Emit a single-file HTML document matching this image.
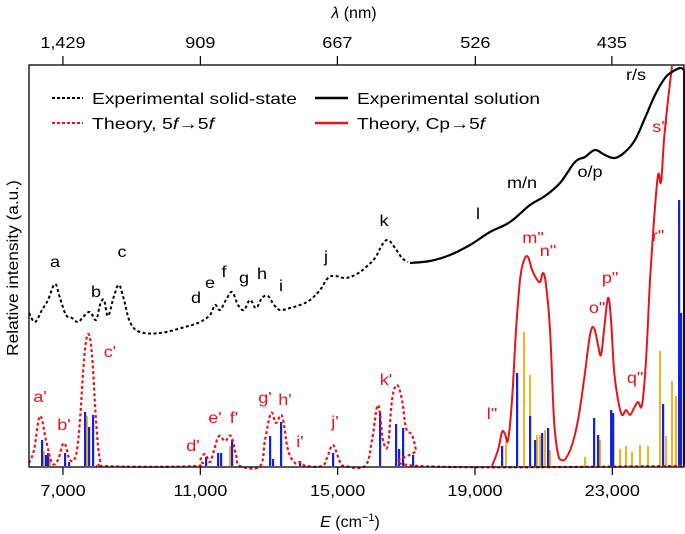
<!DOCTYPE html>
<html><head><meta charset="utf-8"><style>
body{margin:0;background:#fff;}
svg{display:block;font-family:"Liberation Sans",Arial,sans-serif;}
</style></head><body>
<svg id="chart" width="685" height="534" viewBox="0 0 685 534">
<g id="layer"></g>
</svg>
<script>
// ----- data -----
const solidE=[6010,6184,6388,6563,6767,6913,7087,7262,7437,7612,7787,7961,8078,8194,8311,8486,8631,8777,8952,9243,9826,10554,10991,11282,11428,11573,11748,11923,12098,12273,12447,12622,12797,12972,13147,13321,13613,13904,14195,14486,14719,14923,15215,15506,15797,16088,16292,16467,16671,16875,17050];
const solidI=[153,144,156,166,182,168,151,148,144,150,154,146,161,166,150,170,181,166,144,134,133,139,144,151,161,156,166,174,161,156,166,158,168,170,161,156,158,161,166,176,188,190,188,191,198,208,221,226,218,208,204];
const solnE=[17108,17691,18273,18856,19439,20021,20604,21041,21478,21915,22206,22497,22788,23080,23371,23662,23953,24244,24536,24740,24973,25090];
const solnI=[203,205,211,221,234,244,261,270,283,304,309,316,311,308,314,326,348,371,388,394,398,396];
const th5fE=[6010,6155,6330,6505,6680,6854,7029,7204,7379,7495,7612,7728,7845,7961,8078,8253,10845,10991,11136,11282,11399,11544,11719,11894,12039,12156,12739,12884,13059,13205,13380,13554,13758,13904,14079,14545,14691,14865,15069,15215,15797,16001,16176,16321,16467,16584,16729,16875,16992,17166,17283,17399,25100];
const th5fI=[3,16,50,26,3,6,23,6,11,46,106,132,111,46,6,0,0,6,12,4,16,30,25,30,11,0,0,26,53,43,50,16,3,4,0,0,8,21,4,0,0,26,61,26,21,66,81,66,38,31,16,0,0];
const cpE=[19497,19672,19788,19876,19963,20080,20196,20313,20430,20546,20663,20779,20896,20983,21070,21187,21303,21420,21536,21653,21828,22002,22177,22352,22468,22585,22672,22760,22876,22964,23051,23167,23284,23400,23517,23634,23750,23866,23983,24100,24216,24333,24420,24507,24624,24740];
const cpI=[0,16,34,32,26,66,136,186,206,209,196,188,184,193,181,136,46,12,6,8,21,46,86,131,138,121,111,136,168,146,96,66,51,56,51,58,64,61,106,186,246,291,284,326,366,400];
const blueE=[6388,6505,6563,7058,7175,7641,7757,7874,11166,11515,11603,11923,13030,13117,13350,13904,14865,16234,16700,16787,16904,17195,19788,20225,20604,20750,20954,21128,22468,22585,22964,23022,24478,24944,25002,25090];
const blueI=[26,11,13,13,4,54,39,51,9,13,13,26,30,7,44,3,13,54,42,17,38,11,20,93,50,26,33,38,48,31,56,53,62,266,153,396];
const orangeE=[6447,6621,7699,11515,11865,19905,20430,20604,20808,20896,21041,21187,22206,22643,23225,23400,23575,23808,24041,24391,24566,24740,24857];
const orangeI=[15,8,50,8,20,25,134,91,31,31,36,16,9,26,17,20,14,21,20,115,30,85,70];
const bottomTicks=[7000,11000,15000,19000,23000];
const bottomLabels=["7,000","11,000","15,000","19,000","23,000"];
const topTicks=[1429,909,667,526,435];
const topLabels=["1,429","909","667","526","435"];
const peakNames=["a","b","c","d","e","f","g","h","i","j","k","l","m/n","o/p","r/s"];
const peakE=[6767,7961,8718,10875,11282,11690,12273,12797,13350,14661,16351,19090,20371,22352,23692];
const peakI=[199,169,209,163,178,189,183,187,175,204,240,247,278,289,386];
const thNames=["a'","b'","c'","d'","e'","f'","g'","h'","i'","j'","k'","l\"","m\"","n\"","o\"","p\"","q\"","r\"","s\""];
const thE=[6330,7029,8369,10787,11428,11981,12884,13467,13904,14923,16409,19497,20692,21128,22556,22935,23663,24333,24391];
const thI=[64,36,109,15,43,43,63,61,19,39,81,47,223,210,153,183,83,225,334];

// ----- axes -----
const X0=29,X1=684,Y0=466,TOP=65;
const xE=e=>63+(e-7000)*0.03433;
const yI=v=>Y0-v;
const NS="http://www.w3.org/2000/svg";
const L=document.getElementById('layer');
function mk(tag,attrs,parent){const el=document.createElementNS(NS,tag);for(const k in attrs)el.setAttribute(k,attrs[k]);(parent||L).appendChild(el);return el;}
function pathOf(E,I){
  const P=E.map((e,i)=>[xE(e),yI(I[i])]);
  let d='M'+P[0][0].toFixed(1)+','+P[0][1].toFixed(1);
  for(let i=0;i<P.length-1;i++){
    const p0=P[Math.max(0,i-1)],p1=P[i],p2=P[i+1],p3=P[Math.min(P.length-1,i+2)];
    const t=0.18;
    const c1=[p1[0]+(p2[0]-p0[0])*t,p1[1]+(p2[1]-p0[1])*t];
    const c2=[p2[0]-(p3[0]-p1[0])*t,p2[1]-(p3[1]-p1[1])*t];
    d+=' C'+c1[0].toFixed(1)+','+c1[1].toFixed(1)+' '+c2[0].toFixed(1)+','+c2[1].toFixed(1)+' '+p2[0].toFixed(1)+','+p2[1].toFixed(1);
  }
  return d;
}
function txt(x,y,s,anchor,fill){
  const g=mk('g',{transform:'translate('+x+','+y+') scale(1.13,1)'});
  const t=mk('text',{x:0,y:0,'text-anchor':anchor,'font-size':16,fill:fill||'#000'},g);
  t.textContent=s;return t;
}

// bars
orangeE.forEach((e,i)=>{const r=mk('rect',{x:xE(e)-1,y:yI(orangeI[i]),width:2,height:orangeI[i],fill:'#f5b21f'});

});
blueE.forEach((e,i)=>{const r=mk('rect',{x:xE(e)-1,y:yI(blueI[i]),width:2.2,height:blueI[i],fill:'#1020e0'});

});

let p;
p=mk('path',{d:pathOf(th5fE,th5fI),fill:'none',stroke:'#e8141c','stroke-width':2.2,'stroke-dasharray':'3,2.5'});


p=mk('path',{d:pathOf(cpE,cpI),fill:'none',stroke:'#e8141c','stroke-width':2});


p=mk('path',{d:pathOf(solidE,solidI),fill:'none',stroke:'#000','stroke-width':2,'stroke-dasharray':'3,2.5'});


p=mk('path',{d:pathOf(solnE,solnI),fill:'none',stroke:'#000','stroke-width':2.2});



// frame
p=mk('rect',{x:X0,y:TOP,width:X1-X0,height:Y0+1-TOP,fill:'none',stroke:'#000','stroke-width':1.3});



bottomTicks.forEach((t,i)=>{mk('line',{x1:xE(t),x2:xE(t),y1:467,y2:475,stroke:'#000','stroke-width':1.2});
const tx=txt(xE(t),496,bottomLabels[i],'middle');

});
topTicks.forEach((t,i)=>{const e=1e7/t;mk('line',{x1:xE(e),x2:xE(e),y1:56,y2:65,stroke:'#000','stroke-width':1.2});
const tx=txt(xE(e),48,topLabels[i],'middle');

});

peakNames.forEach((n,i)=>{const tx=txt(xE(peakE[i]),yI(peakI[i]),n,'middle');

});
thNames.forEach((n,i)=>{const tx=txt(xE(thE[i]),yI(thI[i]),n,'middle','#e8141c');

});
</script>
<svg style="position:absolute;left:0;top:0" width="685" height="534">
<g font-family="Liberation Sans, Arial, sans-serif" font-size="16">
<text x="354" y="18" text-anchor="middle"><tspan font-style="italic">λ</tspan> (nm)</text>
<text x="350" y="527" text-anchor="middle"><tspan font-style="italic">E</tspan> (cm<tspan font-size="11" dy="-6">−1</tspan><tspan dy="6">)</tspan></text>
<text transform="translate(18,268) rotate(-90) scale(1.08,1)" text-anchor="middle">Relative intensity (a.u.)</text>
<g>
<line x1="52" y1="98" x2="83" y2="98" stroke="#000" stroke-width="2" stroke-dasharray="3,2"/>
<text x="92" y="104" textLength="205" lengthAdjust="spacingAndGlyphs">Experimental solid-state</text>
<line x1="315" y1="98" x2="348" y2="98" stroke="#000" stroke-width="2.4"/>
<text x="357" y="104" textLength="183" lengthAdjust="spacingAndGlyphs">Experimental solution</text>
<line x1="52" y1="123" x2="83" y2="123" stroke="#e8141c" stroke-width="2" stroke-dasharray="3,2"/>
<text x="92" y="129" textLength="122" lengthAdjust="spacingAndGlyphs">Theory, 5<tspan font-style="italic">f</tspan>→5<tspan font-style="italic">f</tspan></text>
<line x1="315" y1="123" x2="348" y2="123" stroke="#e8141c" stroke-width="2.4"/>
<text x="357" y="129" textLength="128" lengthAdjust="spacingAndGlyphs">Theory, Cp→5<tspan font-style="italic">f</tspan></text>
</g></g></svg>
</body></html>
